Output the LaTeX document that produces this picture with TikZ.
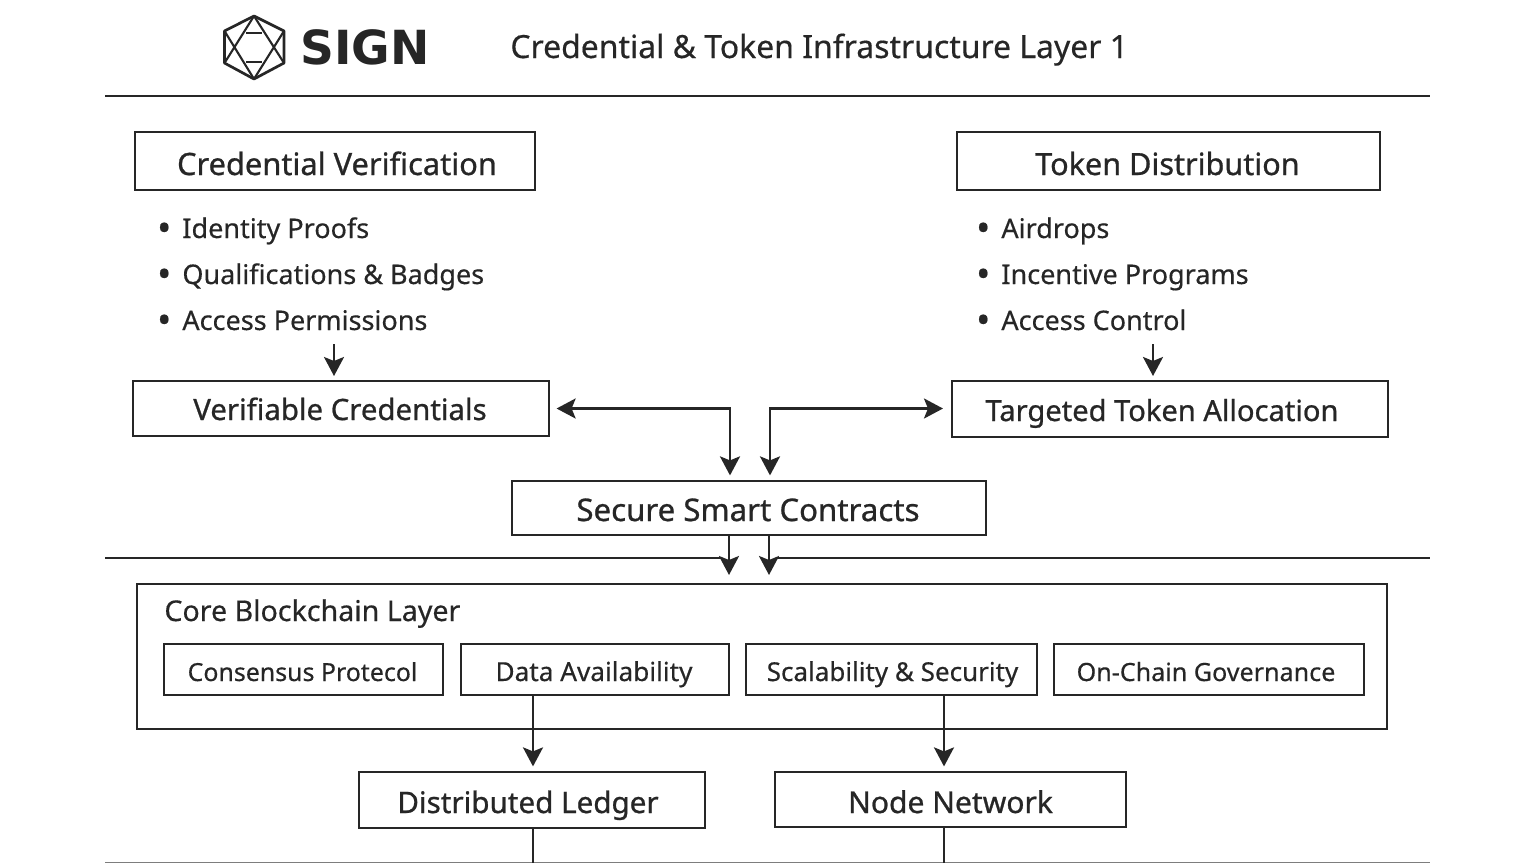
\documentclass[tikz,border=0pt]{standalone}
\usepackage{fontspec}
\setmainfont{Noto Sans}[FakeBold=0.4]
\newfontfamily\hf{Noto Sans}[FakeBold=0.8]
\newfontfamily\signf{DejaVu Sans}
\usetikzlibrary{arrows.meta}
\definecolor{ink}{HTML}{262626}
\tikzset{
  x=0.5pt,y=-0.5pt,
  boxed/.style={draw=ink,line width=1.3pt,inner sep=0pt,outer sep=0pt,text=ink},
  rulel/.style={draw=ink,line width=1.1pt},
  arr/.style={draw=ink,line width=1.3pt,-{Stealth[length=9.5pt,width=10pt,inset=2pt]}},
  arrb/.style={draw=ink,line width=1.3pt,{Stealth[length=9.5pt,width=10pt,inset=2pt]}-{Stealth[length=9.5pt,width=10pt,inset=2pt]}},
  lbl/.style={anchor=base west,inner sep=0pt,text=ink},
  logoline/.style={draw=ink,line width=1.05pt,line join=round}
}
\newcommand{\fz}[1]{\fontsize{#1}{#1}\selectfont}
\newcommand{\fh}[1]{\hf\fontsize{#1}{#1}\selectfont}
\newcommand{\fb}{\fontsize{13.5}{17}\selectfont}
% name x1 y1 x2 y2 baseline xshift font text
\newcommand{\bxn}[9]{%
  \pgfmathsetmacro{\cx}{(#2+#4)/2}\pgfmathsetmacro{\cy}{(#3+#5)/2}%
  \pgfmathsetmacro{\bw}{(#4-#2)*0.5}\pgfmathsetmacro{\bt}{(#6-#3)*0.5}\pgfmathsetmacro{\bd}{(#5-#6)*0.5}%
  \pgfmathsetmacro{\sh}{#7}%
  \node[boxed,minimum width=\bw pt,text height=\bt pt,text depth=\bd pt] (#1) at (\cx,\cy) {\hspace*{\sh pt}#8#9};%
}
\newcommand{\bul}{\llap{\fontsize{19}{19}\selectfont\raisebox{-1.6pt}{•}\hspace{5.5pt}}}
\begin{document}
\begin{tikzpicture}
\useasboundingbox (0,0) rectangle (1536,863);
\fill[white] (0,0) rectangle (1536,863);
% logo
\coordinate (ht) at (254,16);\coordinate (hur) at (284,31);\coordinate (hlr) at (284,63);
\coordinate (hb) at (254,79);\coordinate (hll) at (224.5,63);\coordinate (hul) at (224.5,31);
\draw[logoline,line width=1.35pt] (ht)--(hur)--(hlr)--(hb)--(hll)--(hul)--cycle;
\draw[logoline] (ht)--(hlr) (ht)--(hll) (hb)--(hur) (hb)--(hul);
\draw[logoline] (246,33)--(262,33) (246,62)--(262,62);
\node[lbl,font=\signf\bfseries\fontsize{23.5}{28}\selectfont] (sign) at (300,64.5) {SIGN};
\node[lbl,font=\fz{15.96}] (title) at (510,58) {Credential \& Token Infrastructure Layer 1};
% rules
\coordinate (r1a) at (105,96);\coordinate (r1b) at (1430,96);
\draw[rulel] (r1a)--(r1b);
\coordinate (r2a) at (105,558);\coordinate (r2b) at (721,558);\coordinate (r2c) at (777,558);\coordinate (r2d) at (1430,558);
\draw[rulel] (r2a)--(r2b) (r2c)--(r2d);
\coordinate (r3a) at (105,862.5);\coordinate (r3b) at (1430,862.5);
\draw[draw=ink!60,line width=.8pt] (r3a)--(r3b);
% top boxes
\bxn{cv}{135}{132}{535}{190}{175}{2}{\fh{15.4}}{Credential Verification}
\bxn{td}{957}{132}{1380}{190}{175}{-1}{\fh{15.3}}{Token Distribution}
\node[lbl,font=\fb] (ip) at (182,238) {\bul Identity Proofs};
\node[lbl,font=\fb] (qb) at (182,284) {\bul Qualifications \& Badges};
\node[lbl,font=\fb] (ap) at (182,330) {\bul Access Permissions};
\node[lbl,font=\fb] (ad) at (1001,238) {\bul Airdrops};
\node[lbl,font=\fb] (ic) at (1001,284) {\bul Incentive Programs};
\node[lbl,font=\fb] (ac) at (1001,330) {\bul Access Control};
\bxn{vc}{133}{381}{549}{436}{420}{-1}{\fh{14.7}}{Verifiable Credentials}
\bxn{tta}{952}{381}{1388}{437}{421}{-8}{\fh{14.55}}{Targeted Token Allocation}
\bxn{ssc}{512}{481}{986}{535}{521}{-1}{\fh{15.6}}{Secure Smart Contracts}
% arrows
\coordinate (a1) at (334,344);\coordinate (a2) at (1153,344);
\draw[arr,shorten >=2.5pt] (a1)--(a1 |- vc.north);
\draw[arr,shorten >=2.5pt] (a2)--(a2 |- tta.north);
\coordinate (el) at (730,408.5);\coordinate (er) at (770,408.5);
\draw[arrb,shorten <=3.8pt,shorten >=2.8pt] (vc.east)--(el)--(el |- ssc.north);
\draw[arrb,shorten <=4.5pt,shorten >=2.8pt] (tta.west |- er)--(er)--(er |- ssc.north);
\coordinate (dl0) at (729,575);\coordinate (dr0) at (769,575);
\draw[arr] (dl0 |- ssc.south)--(dl0);
\draw[arr] (dr0 |- ssc.south)--(dr0);
% core
\node[boxed,line width=1.1pt,minimum width=625pt,minimum height=72.5pt] (core) at (762,656.5) {};
\node[lbl,font=\fz{14.3}] (coret) at (164,621) {Core Blockchain Layer};
\bxn{cp}{164}{644}{443}{695}{681}{-1}{\fz{12.45}}{Consensus Protecol}
\bxn{da}{461}{644}{729}{695}{681}{-1}{\fz{13.1}}{Data Availability}
\bxn{ss}{746}{644}{1037}{695}{681}{1}{\fz{13}}{Scalability \& Security}
\bxn{og}{1054}{644}{1364}{695}{681}{-3}{\fz{12.55}}{On-Chain Governance}
\bxn{dl}{359}{772}{705}{828}{813}{-4}{\fh{14.8}}{Distributed Ledger}
\bxn{nn}{775}{772}{1126}{827}{813}{0}{\fh{15}}{Node Network}
\coordinate (xl) at (533,0);\coordinate (xr) at (944,0);
\draw[arr,shorten >=2.8pt] (xl |- da.south)--(xl |- dl.north);
\draw[arr,shorten >=2.8pt] (xr |- ss.south)--(xr |- nn.north);
\draw[draw=ink,line width=1.3pt] (xl |- dl.south)--(xl |- r3a);
\draw[draw=ink,line width=1.3pt] (xr |- nn.south)--(xr |- r3a);
\end{tikzpicture}
\end{document}
